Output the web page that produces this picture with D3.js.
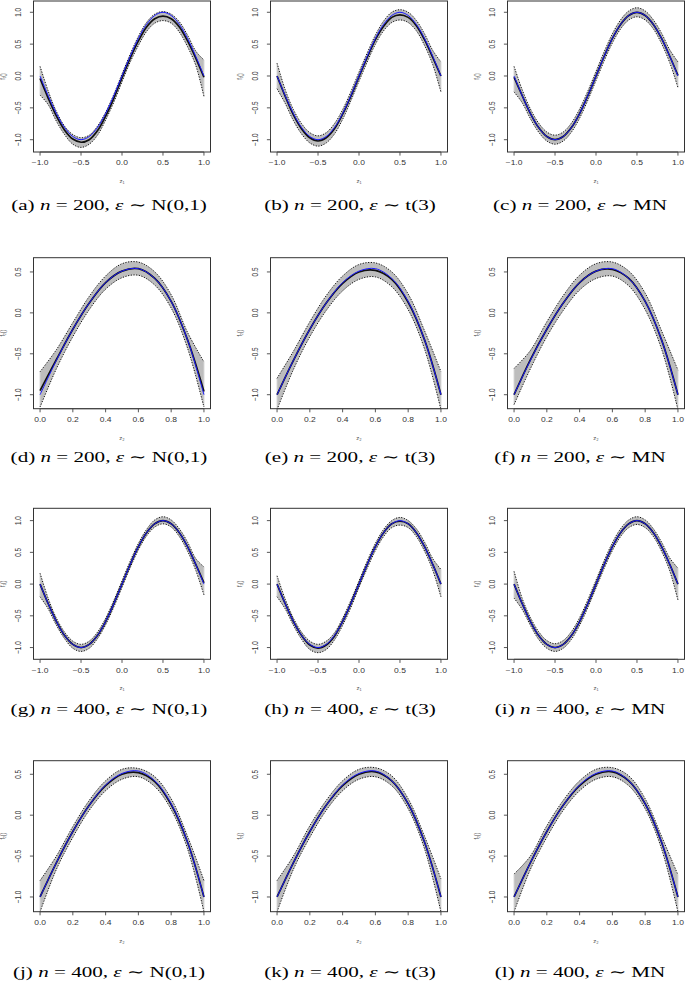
<!DOCTYPE html>
<html><head><meta charset="utf-8">
<script src="https://cdn.jsdelivr.net/npm/d3@7"></script>
<style>body{margin:0;background:#fff} svg{display:block}</style>
</head><body>
<svg id="c" width="685" height="981"></svg>
<script>
// ---------- data ----------
const z1 = [-1,-0.9,-0.8,-0.7,-0.6,-0.5,-0.4,-0.3,-0.2,-0.1,0,0.1,0.2,0.3,0.4,0.5,0.6,0.7,0.8,0.9,1];
const z2 = [0,0.1,0.2,0.3,0.4,0.5,0.6,0.7,0.8,0.9,1];
const trueF1 = [0,-0.31,-0.59,-0.81,-0.95,-1.0,-0.95,-0.81,-0.59,-0.31,0,0.31,0.59,0.81,0.95,1.0,0.95,0.81,0.59,0.31,0];
const trueF2 = [-1.0,-0.58,-0.20,0.12,0.37,0.51,0.54,0.42,0.14,-0.33,-1.0];
const xTicks1 = [-1,-0.5,0,0.5,1];
const xTicks2 = [0,0.2,0.4,0.6,0.8,1];
const yTicks1 = [-1,-0.5,0,0.5,1];
const yTicks2 = [-1,-0.5,0,0.5];
const panelLetters = ["a","b","c","d","e","f","g","h","i","j","k","l"];
const sampleSizes = [200,200,200,200,200,200,400,400,400,400,400,400];
const errorDists = ["N(0,1)","t(3)","MN","N(0,1)","t(3)","MN","N(0,1)","t(3)","MN","N(0,1)","t(3)","MN"];

// (a)
const estA = [-0.04,-0.35,-0.63,-0.85,-0.99,-1.04,-1.0,-0.86,-0.63,-0.35,-0.03,0.28,0.55,0.77,0.90,0.94,0.90,0.77,0.55,0.28,-0.02];
const hiA  = [0.15,-0.24,-0.56,-0.79,-0.92,-0.97,-0.93,-0.79,-0.57,-0.29,0.03,0.34,0.62,0.84,0.97,1.01,0.97,0.85,0.64,0.39,0.25];
const loA  = [-0.30,-0.45,-0.71,-0.92,-1.07,-1.12,-1.07,-0.93,-0.69,-0.41,-0.09,0.22,0.48,0.70,0.83,0.87,0.83,0.69,0.46,0.17,-0.32];
// (b)
const estB = [0.0,-0.32,-0.61,-0.83,-0.97,-1.02,-0.97,-0.83,-0.60,-0.32,-0.01,0.29,0.57,0.78,0.92,0.96,0.92,0.79,0.57,0.29,0.0];
const hiB  = [0.20,-0.22,-0.53,-0.75,-0.89,-0.94,-0.89,-0.75,-0.53,-0.25,0.06,0.36,0.64,0.86,1.0,1.04,1.0,0.87,0.66,0.40,0.22];
const loB  = [-0.20,-0.43,-0.70,-0.91,-1.05,-1.10,-1.05,-0.91,-0.68,-0.39,-0.08,0.22,0.50,0.71,0.84,0.88,0.84,0.71,0.48,0.18,-0.25];
// (c)
const estC = [-0.02,-0.31,-0.59,-0.81,-0.95,-1.0,-0.95,-0.81,-0.59,-0.31,0,0.31,0.59,0.81,0.95,1.0,0.95,0.81,0.59,0.31,0.01];
const hiC  = [0.15,-0.22,-0.52,-0.74,-0.88,-0.93,-0.88,-0.74,-0.52,-0.24,0.07,0.38,0.66,0.88,1.02,1.07,1.02,0.88,0.67,0.41,0.22];
const loC  = [-0.25,-0.42,-0.67,-0.88,-1.02,-1.07,-1.02,-0.88,-0.66,-0.38,-0.07,0.24,0.52,0.74,0.88,0.93,0.88,0.74,0.51,0.21,-0.18];
// (d)
const estD = [-0.95,-0.57,-0.20,0.12,0.37,0.51,0.54,0.42,0.14,-0.33,-0.96];
const hiD  = [-0.72,-0.45,-0.12,0.20,0.45,0.60,0.62,0.50,0.22,-0.24,-0.60];
const loD  = [-1.15,-0.68,-0.29,0.04,0.29,0.43,0.46,0.34,0.06,-0.43,-1.15];
// (e)
const estE = [-1.0,-0.58,-0.20,0.12,0.36,0.50,0.52,0.41,0.13,-0.33,-1.0];
const hiE  = [-0.80,-0.47,-0.11,0.21,0.45,0.59,0.61,0.50,0.23,-0.22,-0.72];
const loE  = [-1.18,-0.69,-0.29,0.03,0.27,0.41,0.44,0.32,0.04,-0.44,-1.18];
// (f)
const estF = [-1.0,-0.57,-0.20,0.12,0.37,0.51,0.53,0.42,0.14,-0.33,-1.0];
const hiF  = [-0.68,-0.46,-0.11,0.21,0.46,0.60,0.62,0.51,0.24,-0.22,-0.70];
const loF  = [-1.12,-0.68,-0.29,0.03,0.28,0.42,0.45,0.33,0.04,-0.44,-1.18];
// (g)
const estG = [0.0,-0.31,-0.59,-0.81,-0.95,-1.0,-0.95,-0.81,-0.59,-0.31,0,0.31,0.59,0.81,0.95,1.0,0.95,0.81,0.59,0.31,0.02];
const hiG  = [0.17,-0.23,-0.54,-0.76,-0.90,-0.95,-0.90,-0.76,-0.54,-0.26,0.05,0.36,0.64,0.86,1.01,1.06,1.01,0.87,0.66,0.40,0.27];
const loG  = [-0.20,-0.39,-0.65,-0.86,-1.01,-1.06,-1.01,-0.86,-0.64,-0.36,-0.05,0.26,0.54,0.76,0.90,0.95,0.90,0.75,0.52,0.22,-0.17];
// (h)
const estH = [0.0,-0.31,-0.59,-0.81,-0.96,-1.01,-0.96,-0.82,-0.59,-0.31,0,0.31,0.59,0.81,0.95,0.99,0.95,0.81,0.59,0.31,0.0];
const hiH  = [0.13,-0.24,-0.54,-0.76,-0.90,-0.95,-0.90,-0.77,-0.54,-0.26,0.05,0.36,0.64,0.86,1.0,1.05,1.0,0.87,0.66,0.40,0.23];
const loH  = [-0.20,-0.39,-0.65,-0.87,-1.03,-1.08,-1.03,-0.88,-0.65,-0.37,-0.05,0.25,0.53,0.75,0.89,0.93,0.89,0.75,0.52,0.22,-0.20];
// (i)
const estI = [0.0,-0.31,-0.59,-0.81,-0.95,-1.0,-0.95,-0.81,-0.59,-0.31,0,0.31,0.59,0.81,0.95,1.0,0.95,0.81,0.59,0.31,0.0];
const hiI  = [0.20,-0.23,-0.53,-0.75,-0.89,-0.94,-0.89,-0.75,-0.53,-0.25,0.06,0.37,0.65,0.87,1.01,1.06,1.01,0.87,0.66,0.41,0.25];
const loI  = [-0.22,-0.40,-0.65,-0.87,-1.01,-1.06,-1.01,-0.87,-0.65,-0.37,-0.06,0.25,0.53,0.75,0.89,0.94,0.89,0.75,0.52,0.21,-0.25];
// (j)
const estJ = [-1.0,-0.58,-0.20,0.12,0.36,0.50,0.52,0.41,0.13,-0.33,-1.0];
const hiJ  = [-0.80,-0.50,-0.14,0.18,0.42,0.56,0.57,0.47,0.20,-0.26,-0.80];
const loJ  = [-1.18,-0.66,-0.27,0.06,0.30,0.44,0.47,0.35,0.07,-0.41,-1.18];
// (k)
const estK = [-1.0,-0.58,-0.20,0.12,0.36,0.50,0.53,0.42,0.14,-0.33,-1.0];
const hiK  = [-0.80,-0.50,-0.13,0.18,0.42,0.56,0.58,0.48,0.20,-0.26,-0.78];
const loK  = [-1.18,-0.66,-0.27,0.06,0.30,0.44,0.47,0.36,0.08,-0.41,-1.18];
// (l)
const estL = [-1.0,-0.58,-0.20,0.12,0.36,0.50,0.53,0.42,0.14,-0.33,-1.0];
const hiL  = [-0.72,-0.50,-0.13,0.18,0.42,0.56,0.58,0.48,0.20,-0.26,-0.73];
const loL  = [-1.18,-0.66,-0.27,0.06,0.30,0.44,0.47,0.36,0.08,-0.41,-1.18];

const estAll = [estA,estB,estC,estD,estE,estF,estG,estH,estI,estJ,estK,estL];
const hiAll  = [hiA,hiB,hiC,hiD,hiE,hiF,hiG,hiH,hiI,hiJ,hiK,hiL];
const loAll  = [loA,loB,loC,loD,loE,loF,loG,loH,loI,loJ,loK,loL];

// ---------- layout ----------
const svg = d3.select("#c");
const SX = 1.33;               // horizontal stretch of the source picture
const capSX = 1.38;
const colLeft = [33.5, 270.5, 507.5];
const boxW = 177;
const rowTop = [1, 257.7, 508.3, 760.7];
const boxH = 151;
const rowYDomain = [[-1.193,1.177],[-1.171,0.674],[-1.185,1.194],[-1.18,0.666]];
const capCenter = [109, 350, 580];
const capBase = [210, 462, 714, 977];

panelLetters.forEach((letter, i) => {
  const row = Math.floor(i/3), col = i%3;
  const isF1 = (row % 2 === 0);
  const zs = isF1 ? z1 : z2;
  const tru = isF1 ? trueF1 : trueF2;
  const x0 = colLeft[col], y0 = rowTop[row];
  const x = d3.scaleLinear().domain(isF1 ? [-1.08,1.08] : [-0.04,1.04]).range([0, boxW]);
  const y = d3.scaleLinear().domain(rowYDomain[row]).range([boxH, 0]);
  const g = svg.append("g").attr("transform", `translate(${x0},${y0})`);
  const clipId = "clip" + letter;
  g.append("clipPath").attr("id", clipId).append("rect").attr("width", boxW).attr("height", boxH);
  const pg = g.append("g").attr("clip-path", `url(#${clipId})`);
  const est = estAll[i], hi = hiAll[i], lo = loAll[i];
  const curve = d3.curveCatmullRom.alpha(0.5);
  const area = d3.area().x((d,k)=>x(zs[k])).y0((d,k)=>y(lo[k])).y1((d,k)=>y(hi[k])).curve(curve);
  pg.append("path").attr("d", area(zs)).attr("fill", "#bdbdbd").attr("stroke", "#d2d2d2").attr("stroke-width", 0.9);
  const line = arr => d3.line().x((d,k)=>x(zs[k])).y((d,k)=>y(arr[k])).curve(curve)(zs);
  [hi, lo].forEach(arr => pg.append("path").attr("d", line(arr)).attr("fill","none")
      .attr("stroke","#111").attr("stroke-width",1).attr("stroke-dasharray","1.2,1.5"));
  pg.append("path").attr("d", line(est)).attr("fill","none").attr("stroke","#111").attr("stroke-width",1.7);
  pg.append("path").attr("d", line(tru)).attr("fill","none").attr("stroke","#1a1aff").attr("stroke-width",1.0);

  g.append("rect").attr("width", boxW).attr("height", boxH).attr("fill","none").attr("stroke","#333").attr("stroke-width",1);

  const fmt = d3.format(".1f");
  const xt = isF1 ? xTicks1 : xTicks2;
  const yt = isF1 ? yTicks1 : yTicks2;
  const tick = "#444", font = "Liberation Sans, Arial, sans-serif";
  g.append("line").attr("x1", x(xt[0])).attr("x2", x(xt[xt.length-1])).attr("y1", boxH).attr("y2", boxH).attr("stroke", tick);
  xt.forEach(t => {
    g.append("line").attr("x1", x(t)).attr("x2", x(t)).attr("y1", boxH).attr("y2", boxH+3.6).attr("stroke", tick).attr("stroke-width",0.9);
    g.append("text").attr("transform", `translate(${x(t)},${boxH+13.3}) scale(${SX},1)`)
      .attr("text-anchor","middle").attr("font-family",font).attr("font-size",6.4).attr("fill","#333").text(fmt(t));
  });
  g.append("line").attr("y1", y(yt[0])).attr("y2", y(yt[yt.length-1])).attr("x1", 0).attr("x2", 0).attr("stroke", tick);
  yt.forEach(t => {
    g.append("line").attr("y1", y(t)).attr("y2", y(t)).attr("x1", 0).attr("x2", -3.6).attr("stroke", tick).attr("stroke-width",0.9);
    g.append("text").attr("transform", `translate(${-12.2},${y(t)}) scale(${SX},1) rotate(-90)`)
      .attr("text-anchor","middle").attr("font-family",font).attr("font-size",6.4).attr("fill","#333").text(fmt(t));
  });
  // axis titles
  const sub = isF1 ? "\u2081" : "\u2082";
  g.append("text").attr("transform", `translate(${boxW/2},${boxH+31}) scale(${SX},1)`)
    .attr("text-anchor","middle").attr("font-family",font).attr("font-size",4.6).attr("fill","#555").text("z" + sub);
  g.append("text").attr("transform", `translate(${-28.5},${boxH/2}) scale(${SX},1) rotate(-90)`)
    .attr("text-anchor","middle").attr("font-family",font).attr("font-size",5).attr("fill","#555").text("f" + sub + "()");

  // caption
  const cap = svg.append("text").attr("transform", `translate(${capCenter[col]},${capBase[row]}) scale(${capSX},1)`)
    .attr("text-anchor","middle").attr("font-family","Liberation Serif, Times New Roman, serif")
    .attr("font-size",15.3).attr("fill","#000");
  cap.append("tspan").text(`(${letter}) `);
  cap.append("tspan").attr("font-style","italic").text("n");
  cap.append("tspan").text(` = ${sampleSizes[i]}, `);
  cap.append("tspan").attr("font-style","italic").text("\u03b5");
  cap.append("tspan").text(` \u223c ${errorDists[i]}`);
});
</script>
</body></html>
